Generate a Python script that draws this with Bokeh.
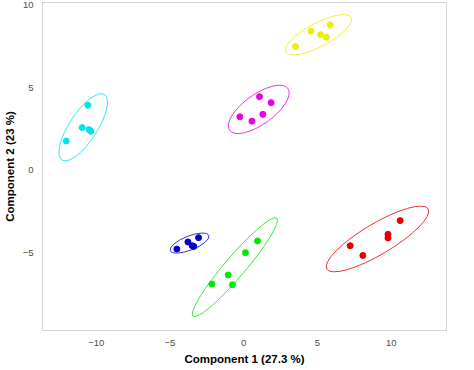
from bokeh.plotting import figure
from bokeh.models import (Range1d, FixedTicker, CustomJSTickFormatter, Legend, LegendItem)
from bokeh.embed import file_html
from bokeh.resources import INLINE

# ---- data -------------------------------------------------------------
groups = ["A", "B", "C", "D", "E", "F"]
colors = ["#00e5e8", "#00e800", "#0000cd", "#e800e8", "#e80000", "#eeee00"]

A_x = [-10.56, -10.95, -10.49, -10.36, -12.03]
A_y = [3.93, 2.58, 2.46, 2.36, 1.77]
B_x = [0.94, 0.12, -1.05, -2.16, -0.76]
B_y = [-4.28, -4.99, -6.34, -6.89, -6.93]
C_x = [-4.53, -3.78, -3.49, -3.38, -3.06]
C_y = [-4.77, -4.34, -4.57, -4.61, -4.08]
D_x = [1.07, 1.86, -0.26, 1.30, 0.56]
D_y = [4.45, 4.09, 3.23, 3.38, 2.97]
E_x = [10.61, 9.78, 9.78, 7.22, 8.08]
E_y = [-3.05, -3.88, -4.10, -4.57, -5.16]
F_x = [3.51, 4.56, 5.21, 5.61, 5.86]
F_y = [7.48, 8.42, 8.21, 8.05, 8.80]

# confidence ellipses (center, axis lengths in axis units, tilt in degrees)
ell_cx = [-10.88, -0.60, -3.67, 1.02, 9.07, 5.08]
ell_cy = [2.60, -5.87, -4.41, 3.68, -4.16, 8.20]
ell_w = [5.29, 8.75, 2.81, 4.87, 7.99, 5.02]
ell_h = [1.69, 1.24, 0.85, 1.81, 1.87, 1.42]
ell_angle = [57.0, 49.5, 21.5, 35.6, 30.7, 28.0]

x_ticks = [-10, -5, 0, 5, 10]
y_ticks = [-5, 0, 5, 10]
x_title = "Component 1 (27.3 %)"
y_title = "Component 2 (23 %)"

xs = [A_x, B_x, C_x, D_x, E_x, F_x]
ys = [A_y, B_y, C_y, D_y, E_y, F_y]

# ---- figure -----------------------------------------------------------
p = figure(frame_width=404, frame_height=328, output_backend="svg", toolbar_location=None,
           x_range=Range1d(-13.64, 13.75), y_range=Range1d(-9.7, 10.15),
           min_border_top=2, min_border_left=0, min_border_right=0, min_border_bottom=0)
p.background_fill_color = "white"
p.border_fill_color = "white"
p.outline_line_color = "#d4d4d4"
p.outline_line_width = 1
p.xgrid.visible = False
p.ygrid.visible = False

fmt = CustomJSTickFormatter(code="return tick < 0 ? '\\u2212' + (-tick) : '' + tick;")
for ax, ticks, title in ((p.xaxis[0], x_ticks, x_title), (p.yaxis[0], y_ticks, y_title)):
    ax.ticker = FixedTicker(ticks=ticks)
    ax.formatter = fmt
    ax.axis_label = title
    ax.axis_label_text_font = "Liberation Sans"
    ax.axis_label_text_font_style = "bold"
    ax.axis_label_text_font_size = "11.5px"
    ax.axis_label_text_color = "black"
    ax.major_label_text_font = "Liberation Sans"
    ax.major_label_text_font_size = "9.5px"
    ax.major_label_text_color = "#4d4d4d"
    ax.axis_line_color = "#d4d4d4"
    ax.major_tick_line_color = None
    ax.minor_tick_line_color = None
    ax.major_label_standoff = 3
    ax.axis_label_standoff = 4

items = []
for g, c, x, y, cx, cy, w, h, a in zip(groups, colors, xs, ys, ell_cx, ell_cy,
                                       ell_w, ell_h, ell_angle):
    p.ellipse(x=[cx], y=[cy], width=[w], height=[h], angle=[a], angle_units="deg",
              fill_alpha=0, line_color=c, line_width=1, line_alpha=0.8)
    r = p.scatter(x=x, y=y, size=6, fill_color=c, line_color=c)
    items.append(LegendItem(label=g, renderers=[r]))

legend = Legend(items=items, location="center", margin=9, padding=0,
                spacing=1, glyph_width=12, glyph_height=10, label_height=10,
                label_standoff=4, label_text_font="Liberation Sans",
                label_text_font_style="bold", label_text_font_size="9.5px",
                label_text_color="black", border_line_color=None,
                background_fill_alpha=0)
p.add_layout(legend, "right")

open("out.html", "w").write(file_html(p, INLINE))
